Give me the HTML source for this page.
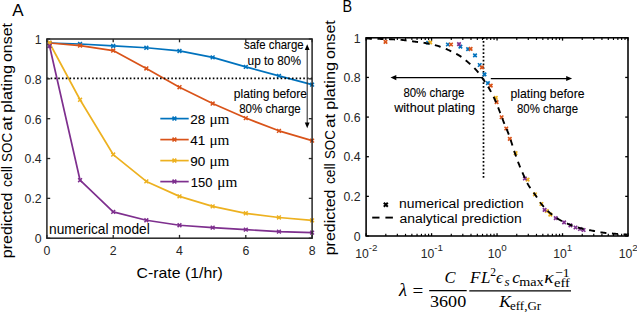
<!DOCTYPE html>
<html><head><meta charset="utf-8"><style>
html,body{margin:0;padding:0;background:#fff;}
svg{display:block;}

</style></head><body>
<svg width="637" height="312" viewBox="0 0 637 312">
<rect width="637" height="312" fill="#fff"/>
<polyline points="49.55,42.98 80.05,43.98 113.20,45.97 146.35,47.76 179.50,50.95 212.65,57.33 245.80,66.89 278.95,75.85 312.10,84.62" fill="none" stroke="#0072BD" stroke-width="1.7" stroke-linejoin="round"/>
<path d="M47.65,41.08L51.45,44.88M47.65,44.88L51.45,41.08" stroke="#0072BD" stroke-width="1.5" fill="none"/>
<path d="M78.15,42.08L81.95,45.88M78.15,45.88L81.95,42.08" stroke="#0072BD" stroke-width="1.5" fill="none"/>
<path d="M111.30,44.07L115.10,47.87M111.30,47.87L115.10,44.07" stroke="#0072BD" stroke-width="1.5" fill="none"/>
<path d="M144.45,45.86L148.25,49.66M144.45,49.66L148.25,45.86" stroke="#0072BD" stroke-width="1.5" fill="none"/>
<path d="M177.60,49.05L181.40,52.85M177.60,52.85L181.40,49.05" stroke="#0072BD" stroke-width="1.5" fill="none"/>
<path d="M210.75,55.43L214.55,59.23M210.75,59.23L214.55,55.43" stroke="#0072BD" stroke-width="1.5" fill="none"/>
<path d="M243.90,64.99L247.70,68.79M243.90,68.79L247.70,64.99" stroke="#0072BD" stroke-width="1.5" fill="none"/>
<path d="M277.05,73.95L280.85,77.75M277.05,77.75L280.85,73.95" stroke="#0072BD" stroke-width="1.5" fill="none"/>
<path d="M310.20,82.72L314.00,86.52M310.20,86.52L314.00,82.72" stroke="#0072BD" stroke-width="1.5" fill="none"/>
<polyline points="49.55,42.98 80.05,45.57 113.20,50.55 146.35,68.48 179.50,87.21 212.65,103.54 245.80,118.08 278.95,130.83 312.10,140.59" fill="none" stroke="#D95319" stroke-width="1.7" stroke-linejoin="round"/>
<path d="M47.65,41.08L51.45,44.88M47.65,44.88L51.45,41.08" stroke="#D95319" stroke-width="1.5" fill="none"/>
<path d="M78.15,43.67L81.95,47.47M78.15,47.47L81.95,43.67" stroke="#D95319" stroke-width="1.5" fill="none"/>
<path d="M111.30,48.65L115.10,52.45M111.30,52.45L115.10,48.65" stroke="#D95319" stroke-width="1.5" fill="none"/>
<path d="M144.45,66.58L148.25,70.38M144.45,70.38L148.25,66.58" stroke="#D95319" stroke-width="1.5" fill="none"/>
<path d="M177.60,85.31L181.40,89.11M177.60,89.11L181.40,85.31" stroke="#D95319" stroke-width="1.5" fill="none"/>
<path d="M210.75,101.64L214.55,105.44M210.75,105.44L214.55,101.64" stroke="#D95319" stroke-width="1.5" fill="none"/>
<path d="M243.90,116.18L247.70,119.98M243.90,119.98L247.70,116.18" stroke="#D95319" stroke-width="1.5" fill="none"/>
<path d="M277.05,128.93L280.85,132.73M277.05,132.73L280.85,128.93" stroke="#D95319" stroke-width="1.5" fill="none"/>
<path d="M310.20,138.69L314.00,142.49M310.20,142.49L314.00,138.69" stroke="#D95319" stroke-width="1.5" fill="none"/>
<polyline points="49.55,42.98 80.05,99.76 113.20,154.54 146.35,181.43 179.50,196.37 212.65,206.33 245.80,213.30 278.95,217.48 312.10,220.37" fill="none" stroke="#EDB120" stroke-width="1.7" stroke-linejoin="round"/>
<path d="M47.65,41.08L51.45,44.88M47.65,44.88L51.45,41.08" stroke="#EDB120" stroke-width="1.5" fill="none"/>
<path d="M78.15,97.86L81.95,101.66M78.15,101.66L81.95,97.86" stroke="#EDB120" stroke-width="1.5" fill="none"/>
<path d="M111.30,152.64L115.10,156.44M111.30,156.44L115.10,152.64" stroke="#EDB120" stroke-width="1.5" fill="none"/>
<path d="M144.45,179.53L148.25,183.33M144.45,183.33L148.25,179.53" stroke="#EDB120" stroke-width="1.5" fill="none"/>
<path d="M177.60,194.47L181.40,198.27M177.60,198.27L181.40,194.47" stroke="#EDB120" stroke-width="1.5" fill="none"/>
<path d="M210.75,204.43L214.55,208.23M210.75,208.23L214.55,204.43" stroke="#EDB120" stroke-width="1.5" fill="none"/>
<path d="M243.90,211.40L247.70,215.20M243.90,215.20L247.70,211.40" stroke="#EDB120" stroke-width="1.5" fill="none"/>
<path d="M277.05,215.58L280.85,219.38M277.05,219.38L280.85,215.58" stroke="#EDB120" stroke-width="1.5" fill="none"/>
<path d="M310.20,218.47L314.00,222.27M310.20,222.27L314.00,218.47" stroke="#EDB120" stroke-width="1.5" fill="none"/>
<polyline points="49.55,45.97 80.05,180.23 113.20,211.91 146.35,220.27 179.50,225.25 212.65,227.64 245.80,229.63 278.95,231.63 312.10,232.62" fill="none" stroke="#7E2F8E" stroke-width="1.7" stroke-linejoin="round"/>
<path d="M47.65,44.07L51.45,47.87M47.65,47.87L51.45,44.07" stroke="#7E2F8E" stroke-width="1.5" fill="none"/>
<path d="M78.15,178.33L81.95,182.13M78.15,182.13L81.95,178.33" stroke="#7E2F8E" stroke-width="1.5" fill="none"/>
<path d="M111.30,210.01L115.10,213.81M111.30,213.81L115.10,210.01" stroke="#7E2F8E" stroke-width="1.5" fill="none"/>
<path d="M144.45,218.37L148.25,222.17M144.45,222.17L148.25,218.37" stroke="#7E2F8E" stroke-width="1.5" fill="none"/>
<path d="M177.60,223.35L181.40,227.15M177.60,227.15L181.40,223.35" stroke="#7E2F8E" stroke-width="1.5" fill="none"/>
<path d="M210.75,225.74L214.55,229.54M210.75,229.54L214.55,225.74" stroke="#7E2F8E" stroke-width="1.5" fill="none"/>
<path d="M243.90,227.73L247.70,231.53M243.90,231.53L247.70,227.73" stroke="#7E2F8E" stroke-width="1.5" fill="none"/>
<path d="M277.05,229.73L280.85,233.53M277.05,233.53L280.85,229.73" stroke="#7E2F8E" stroke-width="1.5" fill="none"/>
<path d="M310.20,230.72L314.00,234.52M310.20,234.52L314.00,230.72" stroke="#7E2F8E" stroke-width="1.5" fill="none"/>
<line x1="46.9" y1="78.4" x2="312.1" y2="78.4" stroke="#000" stroke-width="1.7" stroke-dasharray="1.6 2.17"/>
<rect x="46.9" y="39.0" width="265.20" height="199.20" fill="none" stroke="#262626" stroke-width="1.5"/>
<line x1="46.90" y1="238.2" x2="46.90" y2="234.90" stroke="#262626" stroke-width="1.3"/>
<line x1="46.90" y1="39.0" x2="46.90" y2="42.30" stroke="#262626" stroke-width="1.3"/>
<text x="46.90" y="255.30" font-size="12.3" font-family="Liberation Sans" fill="#262626" text-anchor="middle">0</text>
<line x1="113.20" y1="238.2" x2="113.20" y2="234.90" stroke="#262626" stroke-width="1.3"/>
<line x1="113.20" y1="39.0" x2="113.20" y2="42.30" stroke="#262626" stroke-width="1.3"/>
<text x="113.20" y="255.30" font-size="12.3" font-family="Liberation Sans" fill="#262626" text-anchor="middle">2</text>
<line x1="179.50" y1="238.2" x2="179.50" y2="234.90" stroke="#262626" stroke-width="1.3"/>
<line x1="179.50" y1="39.0" x2="179.50" y2="42.30" stroke="#262626" stroke-width="1.3"/>
<text x="179.50" y="255.30" font-size="12.3" font-family="Liberation Sans" fill="#262626" text-anchor="middle">4</text>
<line x1="245.80" y1="238.2" x2="245.80" y2="234.90" stroke="#262626" stroke-width="1.3"/>
<line x1="245.80" y1="39.0" x2="245.80" y2="42.30" stroke="#262626" stroke-width="1.3"/>
<text x="245.80" y="255.30" font-size="12.3" font-family="Liberation Sans" fill="#262626" text-anchor="middle">6</text>
<line x1="312.10" y1="238.2" x2="312.10" y2="234.90" stroke="#262626" stroke-width="1.3"/>
<line x1="312.10" y1="39.0" x2="312.10" y2="42.30" stroke="#262626" stroke-width="1.3"/>
<text x="312.10" y="255.30" font-size="12.3" font-family="Liberation Sans" fill="#262626" text-anchor="middle">8</text>
<line x1="46.9" y1="238.20" x2="50.20" y2="238.20" stroke="#262626" stroke-width="1.3"/>
<line x1="312.1" y1="238.20" x2="308.80" y2="238.20" stroke="#262626" stroke-width="1.3"/>
<text x="41.70" y="243.10" font-size="12.3" font-family="Liberation Sans" fill="#262626" text-anchor="end">0</text>
<line x1="46.9" y1="198.36" x2="50.20" y2="198.36" stroke="#262626" stroke-width="1.3"/>
<line x1="312.1" y1="198.36" x2="308.80" y2="198.36" stroke="#262626" stroke-width="1.3"/>
<text x="41.70" y="203.26" font-size="12.3" font-family="Liberation Sans" fill="#262626" text-anchor="end">0.2</text>
<line x1="46.9" y1="158.52" x2="50.20" y2="158.52" stroke="#262626" stroke-width="1.3"/>
<line x1="312.1" y1="158.52" x2="308.80" y2="158.52" stroke="#262626" stroke-width="1.3"/>
<text x="41.70" y="163.42" font-size="12.3" font-family="Liberation Sans" fill="#262626" text-anchor="end">0.4</text>
<line x1="46.9" y1="118.68" x2="50.20" y2="118.68" stroke="#262626" stroke-width="1.3"/>
<line x1="312.1" y1="118.68" x2="308.80" y2="118.68" stroke="#262626" stroke-width="1.3"/>
<text x="41.70" y="123.58" font-size="12.3" font-family="Liberation Sans" fill="#262626" text-anchor="end">0.6</text>
<line x1="46.9" y1="78.84" x2="50.20" y2="78.84" stroke="#262626" stroke-width="1.3"/>
<line x1="312.1" y1="78.84" x2="308.80" y2="78.84" stroke="#262626" stroke-width="1.3"/>
<text x="41.70" y="83.74" font-size="12.3" font-family="Liberation Sans" fill="#262626" text-anchor="end">0.8</text>
<line x1="46.9" y1="39.00" x2="50.20" y2="39.00" stroke="#262626" stroke-width="1.3"/>
<line x1="312.1" y1="39.00" x2="308.80" y2="39.00" stroke="#262626" stroke-width="1.3"/>
<text x="41.70" y="43.90" font-size="12.3" font-family="Liberation Sans" fill="#262626" text-anchor="end">1</text>
<line x1="160.3" y1="118.60" x2="188.7" y2="118.60" stroke="#0072BD" stroke-width="1.7"/>
<path d="M172.50,116.70L176.30,120.50M172.50,120.50L176.30,116.70" stroke="#0072BD" stroke-width="1.7" fill="none"/>
<text x="190.30" y="123.80" font-size="12.9" font-family="Liberation Sans" fill="#000" textLength="15.0" lengthAdjust="spacingAndGlyphs" stroke="#000" stroke-width="0.1">28</text>
<text x="209.40" y="123.80" font-size="15" font-family="Liberation Serif" fill="#000" textLength="20.0" lengthAdjust="spacingAndGlyphs">μm</text>
<line x1="160.3" y1="139.60" x2="188.7" y2="139.60" stroke="#D95319" stroke-width="1.7"/>
<path d="M172.50,137.70L176.30,141.50M172.50,141.50L176.30,137.70" stroke="#D95319" stroke-width="1.7" fill="none"/>
<text x="190.30" y="144.80" font-size="12.9" font-family="Liberation Sans" fill="#000" textLength="15.0" lengthAdjust="spacingAndGlyphs" stroke="#000" stroke-width="0.1">41</text>
<text x="209.40" y="144.80" font-size="15" font-family="Liberation Serif" fill="#000" textLength="20.0" lengthAdjust="spacingAndGlyphs">μm</text>
<line x1="160.3" y1="160.60" x2="188.7" y2="160.60" stroke="#EDB120" stroke-width="1.7"/>
<path d="M172.50,158.70L176.30,162.50M172.50,162.50L176.30,158.70" stroke="#EDB120" stroke-width="1.7" fill="none"/>
<text x="190.30" y="165.80" font-size="12.9" font-family="Liberation Sans" fill="#000" textLength="15.0" lengthAdjust="spacingAndGlyphs" stroke="#000" stroke-width="0.1">90</text>
<text x="209.40" y="165.80" font-size="15" font-family="Liberation Serif" fill="#000" textLength="20.0" lengthAdjust="spacingAndGlyphs">μm</text>
<line x1="160.3" y1="181.60" x2="188.7" y2="181.60" stroke="#7E2F8E" stroke-width="1.7"/>
<path d="M172.50,179.70L176.30,183.50M172.50,183.50L176.30,179.70" stroke="#7E2F8E" stroke-width="1.7" fill="none"/>
<text x="190.80" y="186.80" font-size="12.9" font-family="Liberation Sans" fill="#000" textLength="21.6" lengthAdjust="spacingAndGlyphs" stroke="#000" stroke-width="0.1">150</text>
<text x="217.30" y="186.80" font-size="15" font-family="Liberation Serif" fill="#000" textLength="20.0" lengthAdjust="spacingAndGlyphs">μm</text>
<text x="49.00" y="233.80" font-size="14.2" font-family="Liberation Sans" fill="#000" textLength="100.8" lengthAdjust="spacingAndGlyphs">numerical model</text>
<text x="244.00" y="49.30" font-size="12.7" font-family="Liberation Sans" fill="#000" textLength="59.6" lengthAdjust="spacingAndGlyphs" stroke="#000" stroke-width="0.1">safe charge</text>
<text x="247.60" y="64.80" font-size="12.7" font-family="Liberation Sans" fill="#000" textLength="53.4" lengthAdjust="spacingAndGlyphs" stroke="#000" stroke-width="0.1">up to 80%</text>
<text x="233.80" y="97.50" font-size="12.7" font-family="Liberation Sans" fill="#000" textLength="73.1" lengthAdjust="spacingAndGlyphs" stroke="#000" stroke-width="0.1">plating before</text>
<text x="239.20" y="113.30" font-size="12.7" font-family="Liberation Sans" fill="#000" textLength="61.6" lengthAdjust="spacingAndGlyphs" stroke="#000" stroke-width="0.1">80% charge</text>
<line x1="307.2" y1="48" x2="307.2" y2="124" stroke="#333" stroke-width="1.1"/>
<path d="M307.2,44.2 L304.8,50 L309.6,50 Z" fill="#000"/>
<path d="M307.2,128.2 L304.8,122.4 L309.6,122.4 Z" fill="#000"/>
<text x="136.60" y="278.00" font-size="14.4" font-family="Liberation Sans" fill="#000" textLength="86.2" lengthAdjust="spacingAndGlyphs">C-rate (1/hr)</text>
<text transform="translate(11.6,62.00) rotate(-90)" font-size="14.2" font-family="Liberation Sans" textLength="38.90" lengthAdjust="spacingAndGlyphs">onset</text>
<text transform="translate(11.6,112.70) rotate(-90)" font-size="14.2" font-family="Liberation Sans" textLength="47.80" lengthAdjust="spacingAndGlyphs">plating</text>
<text transform="translate(11.6,130.80) rotate(-90)" font-size="14.2" font-family="Liberation Sans" textLength="14.20" lengthAdjust="spacingAndGlyphs">at</text>
<text transform="translate(11.6,162.00) rotate(-90)" font-size="14.2" font-family="Liberation Sans" textLength="29.10" lengthAdjust="spacingAndGlyphs">SOC</text>
<text transform="translate(11.6,187.00) rotate(-90)" font-size="14.2" font-family="Liberation Sans" textLength="20.80" lengthAdjust="spacingAndGlyphs">cell</text>
<text transform="translate(11.6,258.20) rotate(-90)" font-size="14.2" font-family="Liberation Sans" textLength="65.70" lengthAdjust="spacingAndGlyphs">predicted</text>
<text x="12.30" y="16.10" font-size="17" font-family="Liberation Sans" fill="#000">A</text>
<line x1="483.5" y1="37.3" x2="483.5" y2="178.2" stroke="#000" stroke-width="1.7" stroke-dasharray="1.6 2.15"/>
<line x1="395" y1="77.55" x2="482.8" y2="77.55" stroke="#000" stroke-width="1.3"/>
<path d="M390.5,77.55 L396.3,74.95 L396.3,80.15 Z" fill="#000"/>
<line x1="490.8" y1="78.6" x2="567" y2="78.6" stroke="#000" stroke-width="1.3"/>
<path d="M572.1,78.5 L566.2,75.9 L566.2,81.1 Z" fill="#000"/>
<path d="M426.45,41.00L429.95,44.50M426.45,44.50L429.95,41.00" stroke="#0072BD" stroke-width="1.65" fill="none"/>
<path d="M446.15,42.75L449.65,46.25M446.15,46.25L449.65,42.75" stroke="#0072BD" stroke-width="1.65" fill="none"/>
<path d="M458.65,44.85L462.15,48.35M458.65,48.35L462.15,44.85" stroke="#0072BD" stroke-width="1.65" fill="none"/>
<path d="M466.35,47.35L469.85,50.85M466.35,50.85L469.85,47.35" stroke="#0072BD" stroke-width="1.65" fill="none"/>
<path d="M473.25,53.65L476.75,57.15M473.25,57.15L476.75,53.65" stroke="#0072BD" stroke-width="1.65" fill="none"/>
<path d="M477.95,63.25L481.45,66.75M477.95,66.75L481.45,63.25" stroke="#0072BD" stroke-width="1.65" fill="none"/>
<path d="M482.75,72.55L486.25,76.05M482.75,76.05L486.25,72.55" stroke="#0072BD" stroke-width="1.65" fill="none"/>
<path d="M486.15,81.35L489.65,84.85M486.15,84.85L489.65,81.35" stroke="#0072BD" stroke-width="1.65" fill="none"/>
<path d="M383.75,40.15L387.25,43.65M383.75,43.65L387.25,40.15" stroke="#D95319" stroke-width="1.65" fill="none"/>
<path d="M449.25,42.75L452.75,46.25M449.25,46.25L452.75,42.75" stroke="#D95319" stroke-width="1.65" fill="none"/>
<path d="M468.85,47.15L472.35,50.65M468.85,50.65L472.35,47.15" stroke="#D95319" stroke-width="1.65" fill="none"/>
<path d="M480.15,65.55L483.65,69.05M480.15,69.05L483.65,65.55" stroke="#D95319" stroke-width="1.65" fill="none"/>
<path d="M489.00,83.85L492.50,87.35M489.00,87.35L492.50,83.85" stroke="#D95319" stroke-width="1.65" fill="none"/>
<path d="M494.85,100.45L498.35,103.95M494.85,103.95L498.35,100.45" stroke="#D95319" stroke-width="1.65" fill="none"/>
<path d="M499.85,115.50L503.35,119.00M499.85,119.00L503.35,115.50" stroke="#D95319" stroke-width="1.65" fill="none"/>
<path d="M504.50,126.75L508.00,130.25M504.50,130.25L508.00,126.75" stroke="#D95319" stroke-width="1.65" fill="none"/>
<path d="M508.05,137.05L511.55,140.55M508.05,140.55L511.55,137.05" stroke="#D95319" stroke-width="1.65" fill="none"/>
<path d="M428.45,40.55L431.95,44.05M428.45,44.05L431.95,40.55" stroke="#EDB120" stroke-width="1.65" fill="none"/>
<path d="M494.05,96.05L497.55,99.55M494.05,99.55L497.55,96.05" stroke="#EDB120" stroke-width="1.65" fill="none"/>
<path d="M513.85,151.35L517.35,154.85M513.85,154.85L517.35,151.35" stroke="#EDB120" stroke-width="1.65" fill="none"/>
<path d="M525.85,177.85L529.35,181.35M525.85,181.35L529.35,177.85" stroke="#EDB120" stroke-width="1.65" fill="none"/>
<path d="M533.15,192.65L536.65,196.15M533.15,196.15L536.65,192.65" stroke="#EDB120" stroke-width="1.65" fill="none"/>
<path d="M539.65,202.25L543.15,205.75M539.65,205.75L543.15,202.25" stroke="#EDB120" stroke-width="1.65" fill="none"/>
<path d="M545.05,209.25L548.55,212.75M545.05,212.75L548.55,209.25" stroke="#EDB120" stroke-width="1.65" fill="none"/>
<path d="M548.55,212.85L552.05,216.35M548.55,216.35L552.05,212.85" stroke="#EDB120" stroke-width="1.65" fill="none"/>
<path d="M457.25,42.35L460.75,45.85M457.25,45.85L460.75,42.35" stroke="#7E2F8E" stroke-width="1.65" fill="none"/>
<path d="M523.15,176.75L526.65,180.25M523.15,180.25L526.65,176.75" stroke="#7E2F8E" stroke-width="1.65" fill="none"/>
<path d="M542.85,208.05L546.35,211.55M542.85,211.55L546.35,208.05" stroke="#7E2F8E" stroke-width="1.65" fill="none"/>
<path d="M554.00,216.35L557.50,219.85M554.00,219.85L557.50,216.35" stroke="#7E2F8E" stroke-width="1.65" fill="none"/>
<path d="M562.35,220.65L565.85,224.15M562.35,224.15L565.85,220.65" stroke="#7E2F8E" stroke-width="1.65" fill="none"/>
<path d="M568.65,223.55L572.15,227.05M568.65,227.05L572.15,223.55" stroke="#7E2F8E" stroke-width="1.65" fill="none"/>
<path d="M573.75,225.75L577.25,229.25M573.75,229.25L577.25,225.75" stroke="#7E2F8E" stroke-width="1.65" fill="none"/>
<path d="M578.25,227.25L581.75,230.75M578.25,230.75L581.75,227.25" stroke="#7E2F8E" stroke-width="1.65" fill="none"/>
<path d="M581.85,228.25L585.35,231.75M581.85,231.75L585.35,228.25" stroke="#7E2F8E" stroke-width="1.65" fill="none"/>
<path d="M366.50,38.60 L366.68,38.60 L367.20,38.61 L368.00,38.63 L369.03,38.65 L370.25,38.68 L371.61,38.70 L373.06,38.74 L374.56,38.77 L376.05,38.80 L377.48,38.84 L378.82,38.87 L380.00,38.90 L381.03,38.93 L382.05,38.96 L383.06,38.98 L384.08,39.01 L385.08,39.04 L386.08,39.07 L387.08,39.10 L388.07,39.14 L389.06,39.17 L390.05,39.21 L391.02,39.25 L392.00,39.30 L392.92,39.34 L393.83,39.39 L394.73,39.43 L395.62,39.48 L396.52,39.53 L397.41,39.58 L398.29,39.64 L399.19,39.70 L400.08,39.76 L400.98,39.83 L401.88,39.91 L402.80,40.00 L403.77,40.10 L404.75,40.22 L405.74,40.34 L406.73,40.47 L407.73,40.60 L408.73,40.74 L409.73,40.89 L410.73,41.03 L411.73,41.18 L412.72,41.32 L413.71,41.46 L414.70,41.60 L415.67,41.73 L416.63,41.85 L417.59,41.97 L418.55,42.09 L419.51,42.21 L420.47,42.33 L421.42,42.46 L422.38,42.59 L423.33,42.72 L424.29,42.87 L425.24,43.03 L426.20,43.20 L427.17,43.38 L428.14,43.57 L429.12,43.76 L430.10,43.96 L431.08,44.17 L432.05,44.39 L433.02,44.61 L433.99,44.85 L434.95,45.09 L435.91,45.35 L436.86,45.62 L437.80,45.90 L438.71,46.19 L439.61,46.49 L440.50,46.79 L441.39,47.11 L442.27,47.44 L443.15,47.78 L444.02,48.13 L444.90,48.49 L445.77,48.85 L446.64,49.23 L447.52,49.61 L448.40,50.00 L449.32,50.41 L450.26,50.84 L451.20,51.27 L452.14,51.71 L453.08,52.16 L454.02,52.62 L454.95,53.09 L455.88,53.57 L456.78,54.06 L457.68,54.56 L458.55,55.08 L459.40,55.60 L460.18,56.10 L460.93,56.62 L461.68,57.14 L462.41,57.67 L463.12,58.22 L463.83,58.77 L464.53,59.33 L465.23,59.90 L465.92,60.47 L466.61,61.06 L467.30,61.65 L468.00,62.25 L468.73,62.88 L469.46,63.52 L470.19,64.16 L470.91,64.82 L471.64,65.48 L472.36,66.15 L473.07,66.83 L473.78,67.53 L474.47,68.23 L475.16,68.94 L475.84,69.66 L476.50,70.40 L477.17,71.17 L477.82,71.96 L478.47,72.76 L479.10,73.58 L479.73,74.40 L480.35,75.24 L480.96,76.08 L481.56,76.93 L482.16,77.78 L482.74,78.62 L483.33,79.46 L483.90,80.30 L484.45,81.10 L484.98,81.90 L485.52,82.70 L486.04,83.50 L486.56,84.30 L487.07,85.10 L487.57,85.90 L488.07,86.71 L488.56,87.52 L489.04,88.34 L489.53,89.17 L490.00,90.00 L490.48,90.85 L490.95,91.71 L491.41,92.58 L491.87,93.45 L492.33,94.33 L492.78,95.21 L493.22,96.09 L493.65,96.98 L494.08,97.86 L494.49,98.75 L494.90,99.62 L495.30,100.50 L495.67,101.33 L496.02,102.16 L496.37,102.98 L496.70,103.80 L497.03,104.62 L497.35,105.44 L497.67,106.26 L497.99,107.09 L498.31,107.93 L498.63,108.77 L498.96,109.63 L499.30,110.50 L499.68,111.48 L500.06,112.48 L500.45,113.49 L500.84,114.52 L501.23,115.55 L501.62,116.59 L502.01,117.64 L502.41,118.68 L502.81,119.72 L503.20,120.76 L503.60,121.79 L504.00,122.80 L504.39,123.77 L504.78,124.73 L505.18,125.67 L505.57,126.60 L505.97,127.53 L506.36,128.46 L506.76,129.40 L507.16,130.35 L507.56,131.32 L507.95,132.32 L508.35,133.34 L508.75,134.40 L509.24,135.76 L509.73,137.19 L510.23,138.67 L510.73,140.20 L511.23,141.76 L511.73,143.33 L512.23,144.89 L512.72,146.45 L513.21,147.97 L513.68,149.44 L514.15,150.86 L514.60,152.20 L514.95,153.21 L515.28,154.18 L515.61,155.14 L515.93,156.07 L516.25,156.98 L516.57,157.87 L516.88,158.76 L517.20,159.63 L517.51,160.50 L517.84,161.36 L518.16,162.23 L518.50,163.10 L518.82,163.92 L519.14,164.72 L519.46,165.51 L519.78,166.29 L520.10,167.06 L520.43,167.84 L520.76,168.61 L521.09,169.39 L521.43,170.18 L521.78,170.97 L522.14,171.78 L522.50,172.60 L522.92,173.55 L523.34,174.51 L523.76,175.50 L524.19,176.50 L524.63,177.51 L525.08,178.52 L525.54,179.53 L526.00,180.53 L526.48,181.53 L526.97,182.50 L527.48,183.46 L528.00,184.40 L528.52,185.28 L529.06,186.15 L529.62,187.00 L530.19,187.84 L530.78,188.67 L531.37,189.50 L531.96,190.32 L532.56,191.13 L533.16,191.94 L533.75,192.76 L534.33,193.58 L534.90,194.40 L535.44,195.21 L535.98,196.02 L536.50,196.83 L537.01,197.64 L537.53,198.46 L538.05,199.26 L538.57,200.07 L539.10,200.87 L539.65,201.67 L540.21,202.45 L540.79,203.23 L541.40,204.00 L542.06,204.80 L542.73,205.59 L543.42,206.38 L544.12,207.17 L544.84,207.95 L545.57,208.72 L546.31,209.48 L547.07,210.23 L547.83,210.97 L548.61,211.70 L549.40,212.41 L550.20,213.10 L551.02,213.79 L551.86,214.47 L552.72,215.14 L553.60,215.80 L554.48,216.44 L555.38,217.08 L556.28,217.69 L557.18,218.29 L558.09,218.88 L559.00,219.44 L559.90,219.98 L560.80,220.50 L561.62,220.96 L562.45,221.39 L563.28,221.81 L564.10,222.21 L564.93,222.59 L565.77,222.96 L566.60,223.32 L567.43,223.67 L568.27,224.01 L569.11,224.34 L569.95,224.67 L570.80,225.00 L571.64,225.32 L572.48,225.63 L573.32,225.93 L574.16,226.22 L575.00,226.51 L575.85,226.79 L576.70,227.06 L577.55,227.32 L578.41,227.57 L579.27,227.82 L580.13,228.06 L581.00,228.30 L581.89,228.53 L582.78,228.75 L583.68,228.96 L584.57,229.15 L585.48,229.34 L586.38,229.53 L587.29,229.71 L588.20,229.89 L589.12,230.06 L590.04,230.24 L590.97,230.42 L591.90,230.60 L592.89,230.80 L593.88,230.99 L594.89,231.19 L595.90,231.40 L596.92,231.59 L597.94,231.79 L598.96,231.98 L599.98,232.17 L600.99,232.34 L602.00,232.51 L603.01,232.66 L604.00,232.80 L604.93,232.92 L605.85,233.02 L606.77,233.12 L607.68,233.20 L608.59,233.28 L609.50,233.35 L610.41,233.42 L611.31,233.48 L612.23,233.55 L613.14,233.61 L614.07,233.68 L615.00,233.75 L616.06,233.83 L617.25,233.92 L618.53,234.01 L619.85,234.11 L621.18,234.20 L622.47,234.29 L623.67,234.37 L624.76,234.45 L625.68,234.51 L626.38,234.56 L626.84,234.59 L627.00,234.60" fill="none" stroke="#000" stroke-width="1.9" stroke-dasharray="6 5.57" stroke-dashoffset="0.6"/>
<rect x="366.1" y="37.8" width="261.90" height="198.20" fill="none" stroke="#000" stroke-width="1.55"/>
<line x1="366.10" y1="236.0" x2="366.10" y2="233.20" stroke="#000" stroke-width="1.3"/>
<line x1="366.10" y1="37.8" x2="366.10" y2="40.60" stroke="#000" stroke-width="1.3"/>
<line x1="385.81" y1="236.0" x2="385.81" y2="233.80" stroke="#000" stroke-width="1.15"/>
<line x1="385.81" y1="37.8" x2="385.81" y2="40.00" stroke="#000" stroke-width="1.15"/>
<line x1="397.34" y1="236.0" x2="397.34" y2="233.80" stroke="#000" stroke-width="1.15"/>
<line x1="397.34" y1="37.8" x2="397.34" y2="40.00" stroke="#000" stroke-width="1.15"/>
<line x1="405.52" y1="236.0" x2="405.52" y2="233.80" stroke="#000" stroke-width="1.15"/>
<line x1="405.52" y1="37.8" x2="405.52" y2="40.00" stroke="#000" stroke-width="1.15"/>
<line x1="411.87" y1="236.0" x2="411.87" y2="233.80" stroke="#000" stroke-width="1.15"/>
<line x1="411.87" y1="37.8" x2="411.87" y2="40.00" stroke="#000" stroke-width="1.15"/>
<line x1="417.05" y1="236.0" x2="417.05" y2="233.80" stroke="#000" stroke-width="1.15"/>
<line x1="417.05" y1="37.8" x2="417.05" y2="40.00" stroke="#000" stroke-width="1.15"/>
<line x1="421.43" y1="236.0" x2="421.43" y2="233.80" stroke="#000" stroke-width="1.15"/>
<line x1="421.43" y1="37.8" x2="421.43" y2="40.00" stroke="#000" stroke-width="1.15"/>
<line x1="425.23" y1="236.0" x2="425.23" y2="233.80" stroke="#000" stroke-width="1.15"/>
<line x1="425.23" y1="37.8" x2="425.23" y2="40.00" stroke="#000" stroke-width="1.15"/>
<line x1="428.58" y1="236.0" x2="428.58" y2="233.80" stroke="#000" stroke-width="1.15"/>
<line x1="428.58" y1="37.8" x2="428.58" y2="40.00" stroke="#000" stroke-width="1.15"/>
<text x="366.30" y="257.8" font-size="12.2" font-family="Liberation Sans" fill="#262626" text-anchor="middle">10<tspan font-size="9.8" dy="-6.4">-2</tspan></text>
<line x1="431.58" y1="236.0" x2="431.58" y2="233.20" stroke="#000" stroke-width="1.3"/>
<line x1="431.58" y1="37.8" x2="431.58" y2="40.60" stroke="#000" stroke-width="1.3"/>
<line x1="451.28" y1="236.0" x2="451.28" y2="233.80" stroke="#000" stroke-width="1.15"/>
<line x1="451.28" y1="37.8" x2="451.28" y2="40.00" stroke="#000" stroke-width="1.15"/>
<line x1="462.81" y1="236.0" x2="462.81" y2="233.80" stroke="#000" stroke-width="1.15"/>
<line x1="462.81" y1="37.8" x2="462.81" y2="40.00" stroke="#000" stroke-width="1.15"/>
<line x1="470.99" y1="236.0" x2="470.99" y2="233.80" stroke="#000" stroke-width="1.15"/>
<line x1="470.99" y1="37.8" x2="470.99" y2="40.00" stroke="#000" stroke-width="1.15"/>
<line x1="477.34" y1="236.0" x2="477.34" y2="233.80" stroke="#000" stroke-width="1.15"/>
<line x1="477.34" y1="37.8" x2="477.34" y2="40.00" stroke="#000" stroke-width="1.15"/>
<line x1="482.52" y1="236.0" x2="482.52" y2="233.80" stroke="#000" stroke-width="1.15"/>
<line x1="482.52" y1="37.8" x2="482.52" y2="40.00" stroke="#000" stroke-width="1.15"/>
<line x1="486.91" y1="236.0" x2="486.91" y2="233.80" stroke="#000" stroke-width="1.15"/>
<line x1="486.91" y1="37.8" x2="486.91" y2="40.00" stroke="#000" stroke-width="1.15"/>
<line x1="490.70" y1="236.0" x2="490.70" y2="233.80" stroke="#000" stroke-width="1.15"/>
<line x1="490.70" y1="37.8" x2="490.70" y2="40.00" stroke="#000" stroke-width="1.15"/>
<line x1="494.05" y1="236.0" x2="494.05" y2="233.80" stroke="#000" stroke-width="1.15"/>
<line x1="494.05" y1="37.8" x2="494.05" y2="40.00" stroke="#000" stroke-width="1.15"/>
<text x="431.78" y="257.8" font-size="12.2" font-family="Liberation Sans" fill="#262626" text-anchor="middle">10<tspan font-size="9.8" dy="-6.4">-1</tspan></text>
<line x1="497.05" y1="236.0" x2="497.05" y2="233.20" stroke="#000" stroke-width="1.3"/>
<line x1="497.05" y1="37.8" x2="497.05" y2="40.60" stroke="#000" stroke-width="1.3"/>
<line x1="516.76" y1="236.0" x2="516.76" y2="233.80" stroke="#000" stroke-width="1.15"/>
<line x1="516.76" y1="37.8" x2="516.76" y2="40.00" stroke="#000" stroke-width="1.15"/>
<line x1="528.29" y1="236.0" x2="528.29" y2="233.80" stroke="#000" stroke-width="1.15"/>
<line x1="528.29" y1="37.8" x2="528.29" y2="40.00" stroke="#000" stroke-width="1.15"/>
<line x1="536.47" y1="236.0" x2="536.47" y2="233.80" stroke="#000" stroke-width="1.15"/>
<line x1="536.47" y1="37.8" x2="536.47" y2="40.00" stroke="#000" stroke-width="1.15"/>
<line x1="542.82" y1="236.0" x2="542.82" y2="233.80" stroke="#000" stroke-width="1.15"/>
<line x1="542.82" y1="37.8" x2="542.82" y2="40.00" stroke="#000" stroke-width="1.15"/>
<line x1="548.00" y1="236.0" x2="548.00" y2="233.80" stroke="#000" stroke-width="1.15"/>
<line x1="548.00" y1="37.8" x2="548.00" y2="40.00" stroke="#000" stroke-width="1.15"/>
<line x1="552.38" y1="236.0" x2="552.38" y2="233.80" stroke="#000" stroke-width="1.15"/>
<line x1="552.38" y1="37.8" x2="552.38" y2="40.00" stroke="#000" stroke-width="1.15"/>
<line x1="556.18" y1="236.0" x2="556.18" y2="233.80" stroke="#000" stroke-width="1.15"/>
<line x1="556.18" y1="37.8" x2="556.18" y2="40.00" stroke="#000" stroke-width="1.15"/>
<line x1="559.53" y1="236.0" x2="559.53" y2="233.80" stroke="#000" stroke-width="1.15"/>
<line x1="559.53" y1="37.8" x2="559.53" y2="40.00" stroke="#000" stroke-width="1.15"/>
<text x="497.25" y="257.8" font-size="12.2" font-family="Liberation Sans" fill="#262626" text-anchor="middle">10<tspan font-size="9.8" dy="-6.4">0</tspan></text>
<line x1="562.52" y1="236.0" x2="562.52" y2="233.20" stroke="#000" stroke-width="1.3"/>
<line x1="562.52" y1="37.8" x2="562.52" y2="40.60" stroke="#000" stroke-width="1.3"/>
<line x1="582.23" y1="236.0" x2="582.23" y2="233.80" stroke="#000" stroke-width="1.15"/>
<line x1="582.23" y1="37.8" x2="582.23" y2="40.00" stroke="#000" stroke-width="1.15"/>
<line x1="593.76" y1="236.0" x2="593.76" y2="233.80" stroke="#000" stroke-width="1.15"/>
<line x1="593.76" y1="37.8" x2="593.76" y2="40.00" stroke="#000" stroke-width="1.15"/>
<line x1="601.94" y1="236.0" x2="601.94" y2="233.80" stroke="#000" stroke-width="1.15"/>
<line x1="601.94" y1="37.8" x2="601.94" y2="40.00" stroke="#000" stroke-width="1.15"/>
<line x1="608.29" y1="236.0" x2="608.29" y2="233.80" stroke="#000" stroke-width="1.15"/>
<line x1="608.29" y1="37.8" x2="608.29" y2="40.00" stroke="#000" stroke-width="1.15"/>
<line x1="613.47" y1="236.0" x2="613.47" y2="233.80" stroke="#000" stroke-width="1.15"/>
<line x1="613.47" y1="37.8" x2="613.47" y2="40.00" stroke="#000" stroke-width="1.15"/>
<line x1="617.86" y1="236.0" x2="617.86" y2="233.80" stroke="#000" stroke-width="1.15"/>
<line x1="617.86" y1="37.8" x2="617.86" y2="40.00" stroke="#000" stroke-width="1.15"/>
<line x1="621.65" y1="236.0" x2="621.65" y2="233.80" stroke="#000" stroke-width="1.15"/>
<line x1="621.65" y1="37.8" x2="621.65" y2="40.00" stroke="#000" stroke-width="1.15"/>
<line x1="625.00" y1="236.0" x2="625.00" y2="233.80" stroke="#000" stroke-width="1.15"/>
<line x1="625.00" y1="37.8" x2="625.00" y2="40.00" stroke="#000" stroke-width="1.15"/>
<text x="562.73" y="257.8" font-size="12.2" font-family="Liberation Sans" fill="#262626" text-anchor="middle">10<tspan font-size="9.8" dy="-6.4">1</tspan></text>
<line x1="628.00" y1="236.0" x2="628.00" y2="233.20" stroke="#000" stroke-width="1.3"/>
<line x1="628.00" y1="37.8" x2="628.00" y2="40.60" stroke="#000" stroke-width="1.3"/>
<text x="628.20" y="257.8" font-size="12.2" font-family="Liberation Sans" fill="#262626" text-anchor="middle">10<tspan font-size="9.8" dy="-6.4">2</tspan></text>
<line x1="366.1" y1="236.00" x2="368.90" y2="236.00" stroke="#000" stroke-width="1.3"/>
<line x1="628.0" y1="236.00" x2="625.20" y2="236.00" stroke="#000" stroke-width="1.3"/>
<text x="360.50" y="240.70" font-size="12.3" font-family="Liberation Sans" fill="#262626" text-anchor="end">0</text>
<line x1="366.1" y1="196.36" x2="368.90" y2="196.36" stroke="#000" stroke-width="1.3"/>
<line x1="628.0" y1="196.36" x2="625.20" y2="196.36" stroke="#000" stroke-width="1.3"/>
<text x="360.50" y="201.06" font-size="12.3" font-family="Liberation Sans" fill="#262626" text-anchor="end">0.2</text>
<line x1="366.1" y1="156.72" x2="368.90" y2="156.72" stroke="#000" stroke-width="1.3"/>
<line x1="628.0" y1="156.72" x2="625.20" y2="156.72" stroke="#000" stroke-width="1.3"/>
<text x="360.50" y="161.42" font-size="12.3" font-family="Liberation Sans" fill="#262626" text-anchor="end">0.4</text>
<line x1="366.1" y1="117.08" x2="368.90" y2="117.08" stroke="#000" stroke-width="1.3"/>
<line x1="628.0" y1="117.08" x2="625.20" y2="117.08" stroke="#000" stroke-width="1.3"/>
<text x="360.50" y="121.78" font-size="12.3" font-family="Liberation Sans" fill="#262626" text-anchor="end">0.6</text>
<line x1="366.1" y1="77.44" x2="368.90" y2="77.44" stroke="#000" stroke-width="1.3"/>
<line x1="628.0" y1="77.44" x2="625.20" y2="77.44" stroke="#000" stroke-width="1.3"/>
<text x="360.50" y="82.14" font-size="12.3" font-family="Liberation Sans" fill="#262626" text-anchor="end">0.8</text>
<line x1="366.1" y1="37.80" x2="368.90" y2="37.80" stroke="#000" stroke-width="1.3"/>
<line x1="628.0" y1="37.80" x2="625.20" y2="37.80" stroke="#000" stroke-width="1.3"/>
<text x="360.50" y="42.50" font-size="12.3" font-family="Liberation Sans" fill="#262626" text-anchor="end">1</text>
<path d="M383.80,202.70L387.80,206.70M383.80,206.70L387.80,202.70" stroke="#000" stroke-width="2.0" fill="none"/>
<line x1="372.2" y1="217.6" x2="379.5" y2="217.6" stroke="#000" stroke-width="1.9"/>
<line x1="385.4" y1="217.6" x2="392.9" y2="217.6" stroke="#000" stroke-width="1.9"/>
<text x="399.10" y="207.70" font-size="13.7" font-family="Liberation Sans" fill="#000" textLength="124.6" lengthAdjust="spacingAndGlyphs">numerical prediction</text>
<text x="399.50" y="222.60" font-size="13.7" font-family="Liberation Sans" fill="#000" textLength="122.3" lengthAdjust="spacingAndGlyphs">analytical prediction</text>
<text x="403.40" y="96.60" font-size="12.7" font-family="Liberation Sans" fill="#000" textLength="61.0" lengthAdjust="spacingAndGlyphs" stroke="#000" stroke-width="0.1">80% charge</text>
<text x="394.20" y="111.50" font-size="12.7" font-family="Liberation Sans" fill="#000" textLength="80.8" lengthAdjust="spacingAndGlyphs" stroke="#000" stroke-width="0.1">without plating</text>
<text x="510.50" y="97.50" font-size="12.7" font-family="Liberation Sans" fill="#000" textLength="74.0" lengthAdjust="spacingAndGlyphs" stroke="#000" stroke-width="0.1">plating before</text>
<text x="517.00" y="112.50" font-size="12.7" font-family="Liberation Sans" fill="#000" textLength="61.0" lengthAdjust="spacingAndGlyphs" stroke="#000" stroke-width="0.1">80% charge</text>
<text transform="translate(335.0,59.10) rotate(-90)" font-size="14.2" font-family="Liberation Sans" textLength="38.90" lengthAdjust="spacingAndGlyphs">onset</text>
<text transform="translate(335.0,109.80) rotate(-90)" font-size="14.2" font-family="Liberation Sans" textLength="47.80" lengthAdjust="spacingAndGlyphs">plating</text>
<text transform="translate(335.0,127.90) rotate(-90)" font-size="14.2" font-family="Liberation Sans" textLength="14.20" lengthAdjust="spacingAndGlyphs">at</text>
<text transform="translate(335.0,159.10) rotate(-90)" font-size="14.2" font-family="Liberation Sans" textLength="29.10" lengthAdjust="spacingAndGlyphs">SOC</text>
<text transform="translate(335.0,184.10) rotate(-90)" font-size="14.2" font-family="Liberation Sans" textLength="20.80" lengthAdjust="spacingAndGlyphs">cell</text>
<text transform="translate(335.0,255.30) rotate(-90)" font-size="14.2" font-family="Liberation Sans" textLength="65.70" lengthAdjust="spacingAndGlyphs">predicted</text>
<text x="342.50" y="11.90" font-size="17" font-family="Liberation Sans" fill="#000" textLength="9.6" lengthAdjust="spacingAndGlyphs">B</text>
<text x="399.0" y="295.9" font-size="18.5" font-family="Liberation Serif" font-style="italic">λ</text>
<text x="412.6" y="296.9" font-size="19" font-family="Liberation Serif" textLength="10.8" lengthAdjust="spacingAndGlyphs">=</text>
<line x1="429.2" y1="290.6" x2="466.7" y2="290.6" stroke="#000" stroke-width="1.25"/>
<text x="444.4" y="282.9" font-size="16.5" font-family="Liberation Serif" font-style="italic">C</text>
<text x="430.0" y="306.6" font-size="17" font-family="Liberation Serif" textLength="36.2" lengthAdjust="spacingAndGlyphs">3600</text>
<line x1="469.3" y1="290.8" x2="571" y2="290.8" stroke="#000" stroke-width="1.25"/>
<text x="470.0" y="282.6" font-size="17" font-family="Liberation Serif" font-style="italic">F</text>
<text x="481.0" y="282.6" font-size="17" font-family="Liberation Serif" font-style="italic">L</text>
<text x="490.2" y="276.4" font-size="11.5" font-family="Liberation Serif">2</text>
<text x="496.0" y="282.6" font-size="17" font-family="Liberation Serif" font-style="italic">ϵ</text>
<text x="504.6" y="286.0" font-size="13" font-family="Liberation Serif" font-style="italic">s</text>
<text x="512.2" y="282.6" font-size="17.5" font-family="Liberation Serif" font-style="italic">c</text>
<text x="519.2" y="286.0" font-size="13.5" font-family="Liberation Serif" textLength="24.4" lengthAdjust="spacingAndGlyphs">max</text>
<text x="544.3" y="282.6" font-size="17" font-family="Liberation Serif" font-style="italic" textLength="9.4" lengthAdjust="spacingAndGlyphs">κ</text>
<text x="555.0" y="277.3" font-size="12.5" font-family="Liberation Serif" textLength="14.5" lengthAdjust="spacingAndGlyphs">−1</text>
<text x="553.9" y="287.3" font-size="12.5" font-family="Liberation Serif" textLength="16" lengthAdjust="spacingAndGlyphs">eff</text>
<text x="499.3" y="306.6" font-size="17.3" font-family="Liberation Serif" font-style="italic">K</text>
<text x="510.0" y="309.7" font-size="12.5" font-family="Liberation Serif" textLength="31.2" lengthAdjust="spacingAndGlyphs">eff,Gr</text>
</svg>
</body></html>
